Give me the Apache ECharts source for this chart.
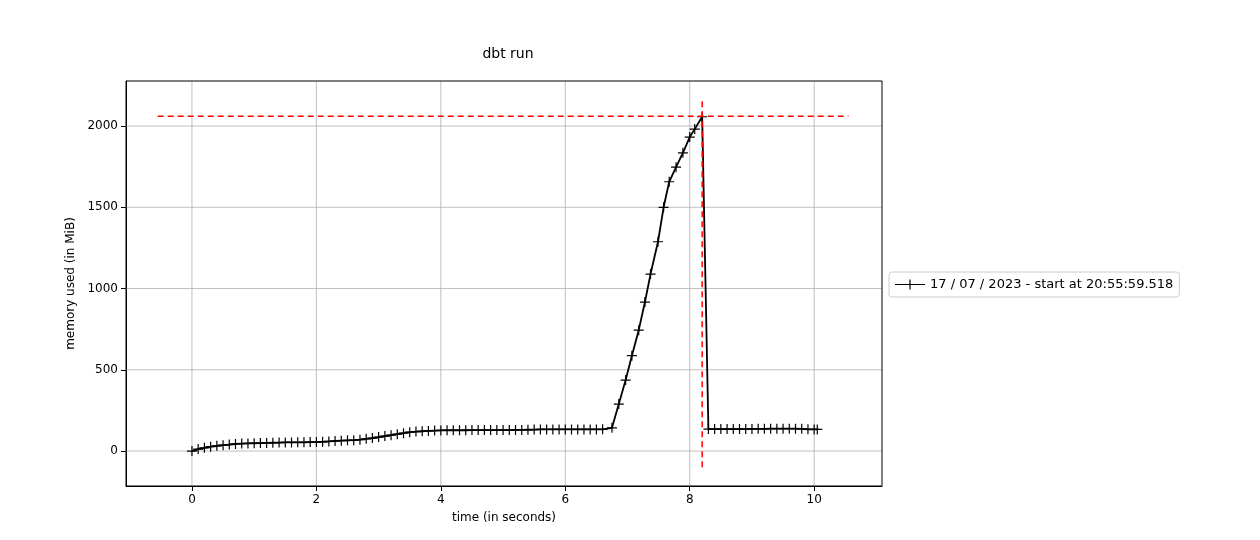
<!DOCTYPE html>
<html><head><meta charset="utf-8">
<script src="https://cdn.jsdelivr.net/npm/echarts@6/dist/echarts.min.js"></script>
<style>html,body{margin:0;background:#fff}#c{width:1260px;height:540px}</style>
</head><body><div id="c"></div>
<script>
const times = [0,0.1,0.2,0.3,0.4,0.5,0.6,0.7,0.8,0.9,1.0,1.1,1.2,1.3,1.4,1.5,1.6,1.7,1.8,1.9,2.0,2.1,2.2,2.3,2.4,2.5,2.6,2.7,2.8,2.9,3.0,3.1,3.2,3.3,3.4,3.5,3.6,3.7,3.8,3.9,4.0,4.1,4.2,4.3,4.4,4.5,4.6,4.7,4.8,4.9,5.0,5.1,5.2,5.3,5.4,5.5,5.6,5.7,5.8,5.9,6.0,6.1,6.2,6.3,6.4,6.5,6.6,6.75,6.86,6.97,7.07,7.18,7.28,7.37,7.49,7.58,7.67,7.78,7.89,8.0,8.08,8.2,8.3,8.4,8.5,8.6,8.7,8.8,8.9,9.0,9.1,9.2,9.3,9.4,9.5,9.6,9.7,9.8,9.9,10.0,10.05];
const memory = [0,12,20,27,32,36,40,44,46,47,48,49,50,51,52,53,53,54,54,55,55,57,59,62,64,66,67,70,75,80,86,92,98,104,110,116,120,122,124,126,127,128,128,128,128,129,129,129,129,129,129,129,130,130,131,132,133,133,133,133,133,133,133,133,133,133,134,143,289,437,587,744,917,1089,1288,1500,1657,1747,1835,1932,1981,2057,135,135,135,135,135,135,135,136,137,137,138,138,138,138,138,137,134,133,133];
const peakTime = 8.2, peakMem = 2060;
const hLineX = [-0.55, 10.55], vLineY = [-100, 2170];
const xTicks = [0,2,4,6,8,10], yTicks = [0,500,1000,1500,2000];
const legendName = '17 / 07 / 2023 - start at 20:55:59.518';
const plus = 'path://M0,4.4H10V5.6H0Z M4.4,0H5.6V10H4.4Z';
const txt = {color:'#000', fontFamily:'DejaVu Sans', fontSize:12};
const chart = echarts.init(document.getElementById('c'));
chart.setOption({
  animation:false,
  title:{text:'dbt run', left:503, top:42, textAlign:'center', textStyle:{...txt, fontSize:14, fontWeight:'normal'}},
  grid:{left:126, right:378, top:81, bottom:54},
  legend:{data:[{name:legendName, icon:'path://M0,4.4H30V5.6H0Z M14.4,0H15.6V10H14.4Z'}], orient:'vertical', left:889, top:272,
    itemWidth:30, itemHeight:10, padding:[6,6], borderColor:'#ccc', borderWidth:1, borderRadius:3, textStyle:{...txt, fontSize:13}},
  xAxis:{type:'value', min:-1.06, max:11.09,
    name:'time (in seconds)', nameLocation:'middle', nameGap:26, nameTextStyle:{...txt},
    axisLine:{onZero:false, lineStyle:{color:'#000'}},
    axisLabel:{...txt, customValues:xTicks, formatter:v=>String(v)},
    axisTick:{show:true, customValues:xTicks, lineStyle:{color:'#000'}},
    splitLine:{show:false}},
  yAxis:{type:'value', min:-215, max:2277,
    name:'memory used (in MiB)', nameLocation:'middle', nameGap:48, nameTextStyle:{...txt},
    axisLine:{show:true, onZero:false, lineStyle:{color:'#000'}},
    axisLabel:{...txt, customValues:yTicks, formatter:v=>String(v)},
    axisTick:{show:true, customValues:yTicks, lineStyle:{color:'#000'}},
    splitLine:{show:false}},
  series:[
    {type:'line', silent:true, data:xTicks.flatMap(x=>[[x,-215],[x,2277],[null,null]]), symbol:'none', lineStyle:{color:'#b0b0b0', width:0.8}, z:1},
    {type:'line', silent:true, data:yTicks.flatMap(y=>[[-1.06,y],[11.09,y],[null,null]]), symbol:'none', lineStyle:{color:'#b0b0b0', width:0.8}, z:1},
    {name:legendName, type:'line', data:times.map((t,i)=>[t,memory[i]]), symbol:plus, symbolSize:10,
      itemStyle:{color:'#000'}, lineStyle:{color:'#000', width:1.8}, z:3},
    {type:'line', data:[[hLineX[0],peakMem],[hLineX[1],peakMem]], symbol:'none', lineStyle:{color:'#ff0000', type:[6,4], width:1.5}, z:4},
    {type:'line', data:[[peakTime,vLineY[0]],[peakTime,vLineY[1]]], symbol:'none', lineStyle:{color:'#ff0000', type:[6,4], width:1.5}, z:4}
  ],
  graphic:[{type:'rect', shape:{x:126,y:81,width:756,height:405}, style:{fill:'none', stroke:'#000', lineWidth:1}, z:10}]
});
</script></body></html>
